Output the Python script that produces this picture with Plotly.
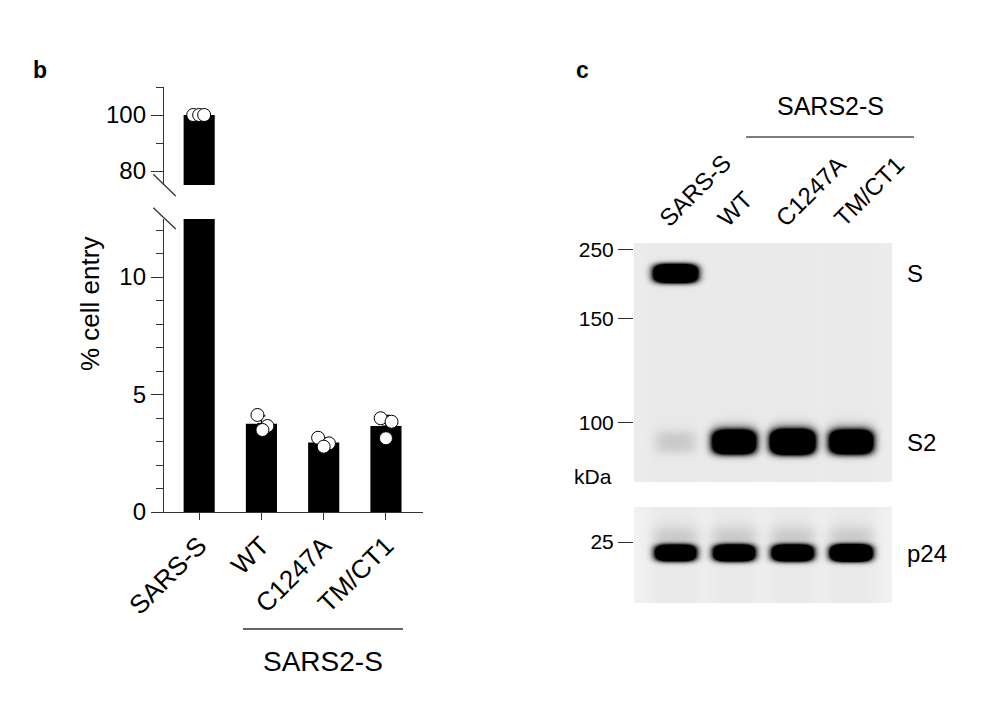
import numpy as np
import plotly.graph_objects as go

W, H = 986, 705
def px(x): return x / W
def py(y): return 1 - y / H

FONT = "Liberation Sans, Arial, sans-serif"
LINE = "#333333"

# ---------------- panel b data ----------------
categories = ["SARS-S", "WT", "C1247A", "TM/CT1"]
entry_sars = [100, 100, 100]
entry_wt = [4.13, 3.66, 3.49]
entry_c1247a = [3.16, 2.92, 2.78]
entry_tmct1 = [3.99, 3.84, 3.14]
replicates = [entry_sars, entry_wt, entry_c1247a, entry_tmct1]
upper_ticks = [80, 100]
lower_ticks = [0, 5, 10]
group_label = "SARS2-S"

# ---------------- panel c data ----------------
lanes = ["SARS-S", "WT", "C1247A", "TM/CT1"]
marker_kda = ["250", "150", "100"]
p24_marker_kda = ["25"]
band_names = ["S", "S2", "p24"]
band_S = [3.0, 0.0, 0.0, 0.0]
band_S2 = [0.12, 2.6, 3.2, 2.6]
band_p24 = [2.6, 2.8, 2.8, 3.2]

# ---------------- layout constants (positions) ----------------
jitter = [[-0.096, 0.0, 0.08], [-0.064, 0.096, 0.016],
          [-0.09, 0.085, 0.0], [-0.085, 0.09, 0.0]]
marker_pos = [6, 75, 180]      # migration (px from blot top)
p24_marker_pos = [35]
S_pos, S2_pos, p24_pos = 30, 200, 46

bar_means = [float(np.mean(r)) for r in replicates]
bar_sd = [float(np.std(r, ddof=1)) for r in replicates]
xpos = list(range(len(categories)))

fig = go.Figure()

fig.add_trace(go.Bar(x=xpos, y=bar_means, width=0.5, marker=dict(color="black", line=dict(width=0)),
                     error_y=dict(type="data", array=bar_sd, symmetric=False, arrayminus=[0]*4,
                                  color="black", thickness=1.3, width=4),
                     xaxis="x", yaxis="y", showlegend=False, hoverinfo="skip"))
fig.add_trace(go.Bar(x=[xpos[0]], y=[bar_means[0]], width=0.5, marker=dict(color="black", line=dict(width=0)),
                     xaxis="x", yaxis="y2", showlegend=False, hoverinfo="skip"))

for i, reps in enumerate(replicates):
    fig.add_trace(go.Scatter(
        x=[xpos[i] + j for j in jitter[i]], y=reps, mode="markers",
        marker=dict(size=13, color="white", line=dict(color="black", width=1)),
        xaxis="x", yaxis="y2" if i == 0 else "y", showlegend=False, hoverinfo="skip"))

# ---------------- blots as heatmaps ----------------
xs = np.linspace(-0.72, 3.705, 260)
def prof(d, w, p):
    return np.exp(-(np.abs(d) / w) ** p)

ys_up = np.arange(0, 240, 1.0)
X, Y = np.meshgrid(xs, ys_up)
z_up = np.full(X.shape, 0.075)
for li in range(4):
    z_up += band_S[li] * prof(X - li, 0.36, 4) * prof(Y - S_pos, 8.7, 3)
    z_up += band_S2[li] * prof(X - li, 0.36, 4) * prof(Y - S2_pos, 11.2, 3)
    z_up += 0.10 * band_S2[li] * prof(X - li, 0.38, 4) * prof(Y - (S2_pos - 12), 8, 2)
    z_up += 0.012 * prof(X - li, 0.45, 4)
z_up = np.clip(z_up, 0, 1)

ys_lo = np.arange(0, 97, 1.0)
X2, Y2 = np.meshgrid(xs, ys_lo)
z_lo = np.full(X2.shape, 0.055)
for li in range(4):
    z_lo += band_p24[li] * prof(X2 - li, 0.34, 4) * prof(Y2 - p24_pos, 8.3, 3)
    z_lo += 0.12 * prof(X2 - li, 0.40, 4) * prof(Y2 - (p24_pos - 17), 11, 2)
    z_lo += 0.03 * prof(X2 - li, 0.45, 4)
z_lo = np.clip(z_lo, 0, 1)

gs = [[0, "#ffffff"], [1, "#000000"]]
fig.add_trace(go.Heatmap(x=xs, y=ys_up, z=z_up, colorscale=gs, zmin=0, zmax=1, showscale=False,
                         xaxis="x3", yaxis="y3", hoverinfo="skip"))
fig.add_trace(go.Heatmap(x=xs, y=ys_lo, z=z_lo, colorscale=gs, zmin=0, zmax=1, showscale=False,
                         xaxis="x4", yaxis="y4", hoverinfo="skip"))

axline = dict(showline=True, linecolor=LINE, linewidth=1.3, ticks="outside", tickcolor=LINE,
              tickwidth=1.3, showgrid=False, zeroline=False, automargin=False)
noline = dict(showline=False, showgrid=False, zeroline=False, automargin=False)

fig.update_layout(
    width=W, height=H, margin=dict(l=0, r=0, t=0, b=0, autoexpand=False),
    paper_bgcolor="white", plot_bgcolor="rgba(0,0,0,0)", barmode="overlay",
    font=dict(family=FONT, color="black"),
    xaxis=dict(domain=[px(164), px(423)], range=[-0.565, 3.595], anchor="y",
               tickvals=xpos, ticktext=categories, tickangle=-45, ticklen=7,
               tickfont=dict(size=26), **axline),
    yaxis=dict(domain=[py(512), py(219)], range=[0, 12.47], anchor="x",
               tickvals=lower_ticks, ticklen=12, tickfont=dict(size=24),
               minor=dict(dtick=1, tick0=0, ticklen=7, ticks="outside", tickcolor=LINE, tickwidth=1.3),
               **axline),
    yaxis2=dict(domain=[py(185), py(87)], range=[75, 110], anchor="x",
                tickvals=upper_ticks, ticklen=12, tickfont=dict(size=24),
                minor=dict(dtick=10, tick0=0, ticklen=7, ticks="outside", tickcolor=LINE, tickwidth=1.3),
                **axline),
    xaxis3=dict(domain=[px(634), px(892)], range=[-0.72, 3.705], anchor="y3", side="top",
                tickvals=xpos, ticktext=lanes, tickangle=-45, ticks="outside", ticklen=1,
                ticklabelshift=-15,
                tickcolor="rgba(0,0,0,0)", tickfont=dict(size=24), **noline),
    yaxis3=dict(domain=[py(482), py(243)], range=[239.5, -0.5], anchor="x3",
                tickvals=marker_pos, ticktext=marker_kda, ticks="outside", ticklen=15,
                tickcolor=LINE, tickwidth=1.3, tickfont=dict(size=21), **noline),
    xaxis4=dict(domain=[px(634), px(892)], range=[-0.72, 3.705], anchor="y4",
                showticklabels=False, ticks="", **noline),
    yaxis4=dict(domain=[py(603), py(507)], range=[96.5, -0.5], anchor="x4",
                tickvals=p24_marker_pos, ticktext=p24_marker_kda, ticks="outside", ticklen=15,
                tickcolor=LINE, tickwidth=1.3, tickfont=dict(size=21), **noline),
)

shapes = [
    dict(type="line", xref="paper", yref="paper", x0=px(153.3), y0=py(174.3), x1=px(175.7), y1=py(196),
         line=dict(color=LINE, width=1.3)),
    dict(type="line", xref="paper", yref="paper", x0=px(153.3), y0=py(207.7), x1=px(175.7), y1=py(229),
         line=dict(color=LINE, width=1.3)),
    dict(type="line", xref="paper", yref="paper", x0=px(243), y0=py(629), x1=px(403), y1=py(629),
         line=dict(color=LINE, width=1.3)),
    dict(type="line", xref="paper", yref="paper", x0=px(746), y0=py(137), x1=px(914), y1=py(137),
         line=dict(color="#555555", width=1.3)),
]
fig.update_layout(shapes=shapes)

ann = [
    dict(text="<b>b</b>", x=px(40), y=py(70), size=23, xa="center"),
    dict(text="<b>c</b>", x=px(582), y=py(70), size=23, xa="center"),
    dict(text=group_label, x=px(323), y=py(661), size=28, xa="center"),
    dict(text=group_label, x=px(830), y=py(106), size=25, xa="center"),
    dict(text="kDa", x=px(614), y=py(476), size=21, xa="right"),
]
annotations = []
for a in ann:
    annotations.append(dict(text=a["text"], x=a["x"], y=a["y"], xref="paper", yref="paper",
                            xanchor=a["xa"], yanchor="middle", showarrow=False,
                            font=dict(size=a["size"], family=FONT, color="black")))
annotations.append(dict(text="% cell entry", x=px(90), y=py(304), xref="paper", yref="paper",
                        textangle=-90, showarrow=False, xanchor="center", yanchor="middle",
                        font=dict(size=26, family=FONT, color="black")))
for name, pos, yr in [(band_names[0], S_pos, "y3"), (band_names[1], S2_pos, "y3"), (band_names[2], p24_pos, "y4")]:
    annotations.append(dict(text=name, x=px(905), y=pos, xref="paper", yref=yr,
                            xanchor="left", yanchor="middle", showarrow=False,
                            font=dict(size=24, family=FONT, color="black")))
fig.update_layout(annotations=annotations)

fig.write_html("out.html", config={"displayModeBar": False},
               post_script="document.body.style.margin='0';document.body.style.padding='0';")
